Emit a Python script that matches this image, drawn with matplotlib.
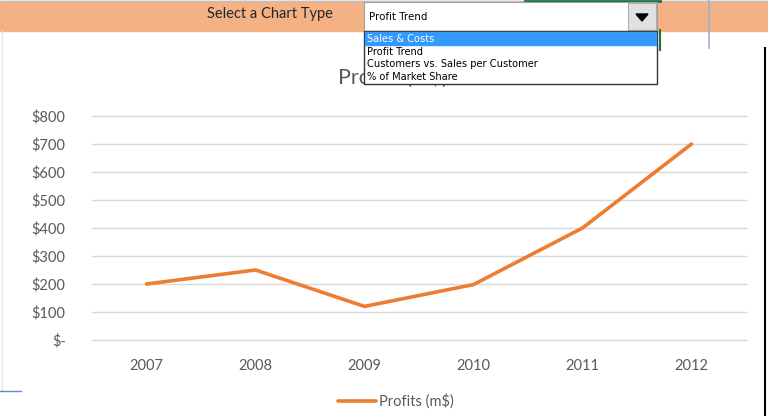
import matplotlib.pyplot as plt
import matplotlib.patches as mpatches
import numpy as np

plt.rcParams['font.family'] = ['Lato', 'DejaVu Sans']

years = ['2007', '2008', '2009', '2010', '2011', '2012']
profits = [200, 250, 120, 198, 400, 700]
yticks = [0, 100, 200, 300, 400, 500, 600, 700, 800]
ytick_labels = ['$-', '$100', '$200', '$300', '$400', '$500', '$600', '$700', '$800']
menu_items = ['Sales & Costs', 'Profit Trend', 'Customers vs. Sales per Customer', '% of Market Share']

W, H = 768, 416
fig = plt.figure(figsize=(W / 100, H / 100), dpi=100)
fig.patch.set_facecolor('white')

# chart area (pixel box 92..746 x 116..340)
ax = fig.add_axes([92 / W, 1 - 340 / H, (746 - 92) / W, (340 - 116) / H])
x = np.arange(len(years))
ax.plot(x, profits, color='#ED7D31', lw=2.6, solid_capstyle='round', label='Profits (m$)', zorder=3)
ax.set_xlim(-0.5, len(years) - 0.5)
ax.set_ylim(0, 800)
ax.set_yticks(yticks)
ax.set_yticklabels(ytick_labels)
ax.set_xticks(x)
ax.set_xticklabels(years)
ax.grid(axis='y', color='#D9D9D9', lw=1)
for gl in ax.get_ygridlines():
    gl.set_clip_on(False)
ax.set_axisbelow(True)
for s in ax.spines.values():
    s.set_visible(False)
ax.tick_params(length=0, colors='#595959', labelsize=10.5)
ax.tick_params(axis='y', pad=19)
ax.tick_params(axis='x', pad=14)
leg = ax.legend(loc='center', bbox_to_anchor=(396 / W, 1 - 401 / H), bbox_transform=fig.transFigure,
                frameon=False, handlelength=2.6, handletextpad=0.2, fontsize=10.5)
for t in leg.get_texts():
    t.set_color('#595959')

# overlay for the sheet stuff around the chart
ov = fig.add_axes([0, 0, 1, 1], zorder=5)
ov.set_xlim(0, W)
ov.set_ylim(H, 0)
ov.axis('off')
ov.patch.set_visible(False)

ov.text(393, 78, 'Profits (m$)', ha='center', va='center', fontsize=15.5, color='#595959', zorder=1)

# orange header band
ov.add_patch(mpatches.Rectangle((0, 1), W, 30, color='#F4B183', zorder=2))
ov.plot([0, W], [0.5, 0.5], color='#BFBFBF', lw=1, zorder=2)
ov.plot([525, 660], [1, 1], color='#217346', lw=2, zorder=3)
ov.plot([709, 709], [0, 48], color='#9DB3CC', lw=1.2, zorder=3)
ov.plot([660, 660], [30, 50], color='#217346', lw=1.5, zorder=3)
ov.plot([765, 765], [48, H], color='black', lw=1.5, zorder=3)
ov.plot([2, 2], [31, 390], color='#E6E6E6', lw=1, zorder=3)
ov.plot([0, 21], [391, 391], color='#5B8FD0', lw=1, zorder=3)
ov.text(270, 14, 'Select a Chart Type', ha='center', va='center', fontsize=10.5, color='#262626', zorder=3)

# combo box
ov.add_patch(mpatches.Rectangle((364, 2), 293, 29, facecolor='white', edgecolor='#A0A0A0', lw=0.8, zorder=4))
ov.add_patch(mpatches.Rectangle((628, 3), 28, 27, facecolor='#E1E1E1', edgecolor='#ADADAD', lw=0.8, zorder=5))
ov.add_patch(mpatches.Polygon([(636, 14), (648, 14), (642, 21)], closed=True, color='black', zorder=6))
ov.text(369, 17, 'Profit Trend', ha='left', va='center', fontsize=7.4, color='black',
        family=['DejaVu Sans'], zorder=6)

# drop-down list
ov.add_patch(mpatches.Rectangle((364, 31), 293, 53, facecolor='white', edgecolor='#333333', lw=1, zorder=7))
ov.add_patch(mpatches.Rectangle((365, 32), 291, 13, color='#3399FF', zorder=8))
for i, item in enumerate(menu_items):
    ov.text(367, 39 + i * 12.7, item, ha='left', va='center', fontsize=7.1,
            color='white' if i == 0 else 'black', family=['DejaVu Sans'], zorder=9)

fig.savefig('out.png', dpi=100)
